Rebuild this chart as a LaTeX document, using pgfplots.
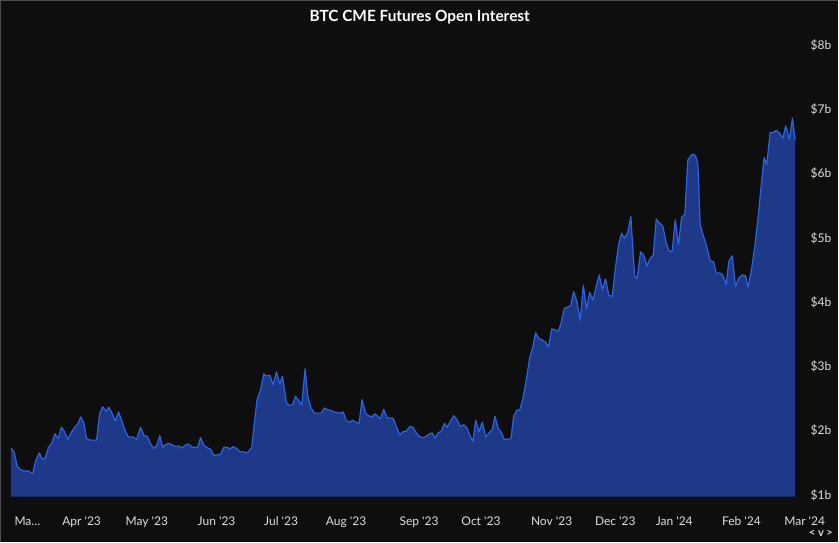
\documentclass[border=0pt]{standalone}
\usepackage{fontspec}
\setmainfont{Lato}
\usepackage{pgfplots}
\pgfplotsset{compat=1.18}
\usepackage{pgfplotstable}
\definecolor{bg}{RGB}{14,14,14}
\definecolor{oifill}{RGB}{30,57,135}
\definecolor{oiline}{RGB}{40,100,232}
\definecolor{ticktext}{RGB}{222,222,222}

% x = horizontal position in px of the original chart, y = open interest in $b
\pgfplotstableread{
x y
11 1.75
14 1.70
17.3 1.47
20.7 1.42
24 1.40
28.3 1.40
32.7 1.36
35.7 1.56
39.3 1.68
42.3 1.58
45.3 1.60
48.3 1.76
51.7 1.83
55 1.98
58.3 1.90
61.3 2.08
64.3 2.02
67.7 1.89
71 1.99
74.7 2.08
77.7 2.13
80.7 2.24
83.7 2.16
86.7 1.90
90.7 1.88
96.7 1.88
99.7 2.29
102.7 2.40
106 2.33
109 2.39
112 2.30
115.3 2.18
118.7 2.32
122 2.17
125 2.04
128.3 1.93
133.3 1.93
136.7 1.89
140.7 2.08
144 1.95
147.3 1.94
150.7 1.82
154 1.75
156.7 1.79
160 1.95
162.7 1.77
166 1.81
169.3 1.83
172.7 1.80
176 1.78
178.7 1.79
182 1.76
185.3 1.80
188.7 1.82
192 1.77
198 1.77
200.7 1.92
204 1.80
207.3 1.76
210.7 1.74
214 1.64
217.3 1.65
220.7 1.66
224 1.77
227.3 1.77
230 1.74
233.3 1.78
236.7 1.75
240 1.70
243.3 1.70
246 1.68
248.7 1.70
252 1.77
255 2.22
257.3 2.51
260.7 2.66
264 2.91
266.7 2.88
270 2.89
273.3 2.74
276.7 2.94
280 2.76
282.7 2.87
286.7 2.46
289.3 2.42
292.7 2.43
295.7 2.56
299.3 2.49
302 2.43
305.3 2.99
308 2.56
311.3 2.38
314.7 2.30
321.3 2.30
324.7 2.38
328 2.35
331.3 2.34
336 2.31
340 2.30
343.3 2.32
346.7 2.18
350 2.16
352.7 2.19
356 2.16
359.3 2.14
362.3 2.51
365.7 2.30
369 2.26
372.3 2.24
375 2.29
377.3 2.26
380.7 2.21
384 2.36
387.3 2.23
393.3 2.22
396.7 2.09
400 1.96
403.3 2.01
406.7 2.02
410 2.09
413.3 2.08
416.7 1.99
420 1.93
424 1.92
427.3 1.95
430 1.98
432.7 1.99
435.3 1.91
438.7 2.00
441.3 2.01
444.7 2.14
447.3 2.08
450.7 2.17
454 2.26
457.3 2.20
460.7 2.09
464 2.12
467.3 2.07
470 1.96
473.3 1.86
476 2.19
479.3 2.01
482.7 2.16
486 1.93
489.3 1.99
492.7 2.05
495.3 2.25
498.7 2.06
501.3 2.01
504.7 1.89
511.3 1.90
514 2.25
517.3 2.35
520 2.34
523.3 2.53
526.7 2.82
530 3.16
533.3 3.34
536 3.55
539.3 3.46
542.7 3.44
546 3.40
549 3.33
552 3.61
555.3 3.60
558.7 3.57
561.3 3.69
564.7 3.93
568 3.95
571 3.97
574 4.19
577.3 4.04
580.7 3.75
583.7 4.29
587 3.92
590 4.18
593.3 4.06
596.7 4.28
599.7 4.45
602.7 4.22
606 4.39
609.3 4.13
612.7 4.12
616 4.58
619 4.92
622 5.10
625 5.02
628.3 5.12
631.3 5.36
635 4.44
637.7 4.40
641 4.81
644.3 4.76
647.3 4.59
650.7 4.71
653.7 4.76
656.7 5.32
660 5.26
663.3 5.21
666.7 4.95
670 4.81
672.7 4.83
675.7 5.31
679 4.92
682 5.35
685.3 5.39
688.3 6.24
691.7 6.32
694.3 6.33
696.3 6.29
698.3 6.19
700.7 5.23
704 5.05
707.3 4.89
710.7 4.67
714 4.66
716.7 4.48
720.7 4.48
723.3 4.45
726.7 4.30
729.3 4.66
732.7 4.75
736 4.27
739.3 4.40
742.7 4.45
746 4.44
748.7 4.26
752 4.53
755.3 4.89
758.7 5.36
762 5.88
764.7 6.28
767.3 6.17
770.7 6.67
774 6.67
776.7 6.70
780 6.66
783.3 6.58
786.3 6.77
790 6.56
793 6.89
795.7 6.55
}\oidata

\begin{document}
\begin{tikzpicture}[x=1pt,y=1pt]
\fill[bg] (0,0) rectangle (839,542);
\draw[gray!60!black, line width=1.2pt] (0.6,0) -- (0.6,541.4) -- (839,541.4);
\node[white, font=\bfseries\fontsize{15.4}{17}\selectfont] at (420,524.5) {BTC CME Futures Open Interest};
\node[ticktext, font=\bfseries\fontsize{11}{12}\selectfont] at (821.5,8.5) {< v >};
\begin{axis}[
    at={(0pt,45pt)}, anchor=south west,
    width=839pt, height=450pt, scale only axis,
    xmin=0, xmax=839, ymin=1, ymax=8,
    axis line style={draw=none},
    tick style={draw=none},
    ytick={1,2,3,4,5,6,7,8},
    yticklabels={\$1b,\$2b,\$3b,\$4b,\$5b,\$6b,\$7b,\$8b},
    yticklabel pos=right,
    yticklabel style={anchor=mid east, xshift=-7pt, inner sep=0pt, text=ticktext, font=\fontsize{12}{13}\selectfont},
    xtick={27.5,81.7,147,216.7,281.3,346.3,419.3,481.3,552,615.7,674.7,742,805.3},
    xticklabels={{Ma…}, {Apr \textquotesingle23}, {May \textquotesingle23}, {Jun \textquotesingle23}, {Jul \textquotesingle23}, {Aug \textquotesingle23}, {Sep \textquotesingle23}, {Oct \textquotesingle23}, {Nov \textquotesingle23}, {Dec \textquotesingle23}, {Jan \textquotesingle24}, {Feb \textquotesingle24}, {Mar \textquotesingle24}},
    xticklabel style={anchor=base, yshift=-28.7pt, inner sep=0pt, text=ticktext, font=\fontsize{12}{13}\selectfont},
]
\addplot[draw=none, fill=oifill] table {\oidata} \closedcycle;
\addplot[oiline, line width=1.2pt, line join=round] table {\oidata};
\end{axis}
\end{tikzpicture}
\end{document}
